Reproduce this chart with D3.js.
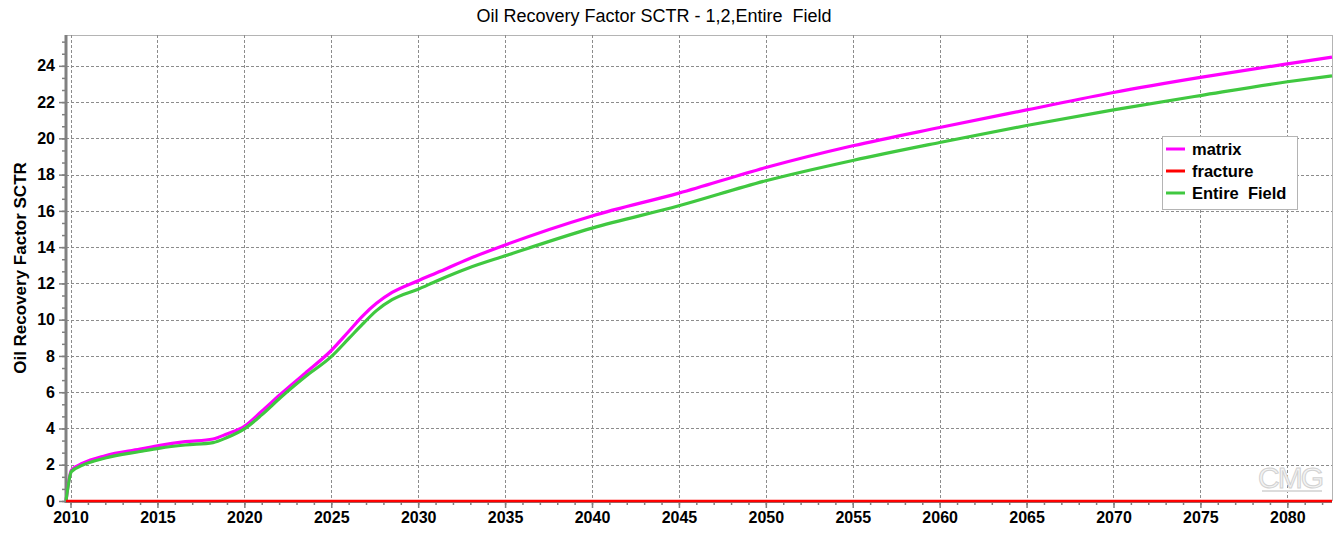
<!DOCTYPE html>
<html>
<head>
<meta charset="utf-8">
<script src="https://cdn.jsdelivr.net/npm/d3@7"></script>
<style>
 body { margin: 0; background: #fff; }
 text { font-family: Arial, "Liberation Sans", sans-serif; }
</style>
</head>
<body>
<svg></svg>
<script>
// размеры окна
const width = 1343;
const height = 541;

// данные
const years = [2009.74, 2010.05, 2010.7, 2012, 2014, 2015.15, 2016.6, 2018.2, 2019, 2020, 2021, 2022.1, 2023.5, 2025, 2026, 2026.8, 2027.6, 2028.5, 2030, 2031.1, 2032.9, 2035, 2040, 2045, 2050, 2055, 2060, 2065, 2070, 2075, 2080, 2082.57];
const matrix = [0, 1.7, 2.08, 2.5, 2.86, 3.07, 3.27, 3.42, 3.7, 4.12, 4.95, 5.9, 7.05, 8.3, 9.35, 10.2, 10.9, 11.5, 12.15, 12.6, 13.35, 14.12, 15.72, 16.98, 18.39, 19.59, 20.6, 21.57, 22.53, 23.36, 24.11, 24.48];
const fracture = [0, 0, 0, 0, 0, 0, 0, 0, 0, 0, 0, 0, 0, 0, 0, 0, 0, 0, 0, 0, 0, 0, 0, 0, 0, 0, 0, 0, 0, 0, 0, 0];
const entireField = [0, 1.62, 1.98, 2.37, 2.73, 2.92, 3.09, 3.22, 3.5, 3.98, 4.75, 5.72, 6.85, 7.96, 8.95, 9.75, 10.5, 11.1, 11.68, 12.15, 12.85, 13.52, 15.05, 16.28, 17.66, 18.78, 19.77, 20.71, 21.57, 22.36, 23.12, 23.45];

const seriesNames = ["matrix", "fracture", "Entire  Field"];
const seriesColors = ["#ff00ff", "#ff0000", "#40c840"];
const xTickYears = [2010, 2015, 2020, 2025, 2030, 2035, 2040, 2045, 2050, 2055, 2060, 2065, 2070, 2075, 2080];
const yTickValues = [0, 2, 4, 6, 8, 10, 12, 14, 16, 18, 20, 22, 24];

const chartTitle = "Oil Recovery Factor SCTR - 1,2,Entire  Field";
const yTitle = "Oil Recovery Factor SCTR";

// область построения
const margin = {left: 66, right: 11, top: 35, bottom: 40};
const plotW = width - margin.left - margin.right;
const plotH = height - margin.top - margin.bottom;

let svg = d3.select("svg")
 .attr("width", width)
 .attr("height", height);

let x = d3.scaleLinear().domain([2009.74, 2082.57]).range([margin.left, margin.left + plotW]);
let y = d3.scaleLinear().domain([0, 25.7]).range([margin.top + plotH, margin.top]);

// рамка сверху и справа
svg.append("line")
 .attr("x1", margin.left).attr("x2", margin.left + plotW)
 .attr("y1", margin.top + 0.5).attr("y2", margin.top + 0.5)
 .attr("stroke", "#b4b4b4");
svg.append("line")
 .attr("x1", margin.left + plotW + 0.5).attr("x2", margin.left + plotW + 0.5)
 .attr("y1", margin.top).attr("y2", margin.top + plotH)
 .attr("stroke", "#b4b4b4");

// сетка
let grid = svg.append("g")
 .attr("stroke", "#8c8c8c")
 .attr("stroke-width", 1)
 .attr("stroke-dasharray", "3,2");
grid.selectAll(".gx").data(xTickYears).enter().append("line")
 .attr("x1", d => Math.round(x(d)) + 0.5).attr("x2", d => Math.round(x(d)) + 0.5)
 .attr("y1", margin.top).attr("y2", margin.top + plotH);
grid.selectAll(".gy").data(yTickValues.filter(d => d > 0)).enter().append("line")
 .attr("x1", margin.left).attr("x2", margin.left + plotW)
 .attr("y1", d => Math.round(y(d)) + 0.5).attr("y2", d => Math.round(y(d)) + 0.5);

// ось X
let xAxis = d3.axisBottom(x)
 .tickValues(xTickYears)
 .tickFormat(d3.format("d"))
 .tickSize(6)
 .tickPadding(4);
let xMinor = d3.axisBottom(x)
 .tickValues(d3.range(2010, 2083, 1))
 .tickFormat("")
 .tickSize(3);
let gxMinor = svg.append("g").attr("transform", `translate(0, ${margin.top + plotH + 1})`).call(xMinor);
let gx = svg.append("g").attr("transform", `translate(0, ${margin.top + plotH + 1})`).call(xAxis);
[gx, gxMinor].forEach(g => {
 g.select(".domain").remove();
 g.selectAll("line").attr("stroke", "#808080").attr("stroke-width", 1.5);
});
gx.selectAll("text")
 .attr("fill", "#000")
 .style("font-size", "16px")
 .style("font-weight", "bold");
svg.append("line")
 .attr("x1", margin.left).attr("x2", margin.left + plotW)
 .attr("y1", margin.top + plotH + 1).attr("y2", margin.top + plotH + 1)
 .attr("stroke", "#808080").attr("stroke-width", 2);

// ось Y
let yAxis = d3.axisLeft(y)
 .tickValues(yTickValues)
 .tickSize(7)
 .tickPadding(4);
let yMinor = d3.axisLeft(y)
 .tickValues(d3.range(0, 25.7, 2 / 3))
 .tickFormat("")
 .tickSize(4);
let gyMinor = svg.append("g").attr("transform", `translate(${margin.left}, 0)`).call(yMinor);
let gy = svg.append("g").attr("transform", `translate(${margin.left}, 0)`).call(yAxis);
[gy, gyMinor].forEach(g => {
 g.select(".domain").remove();
 g.selectAll("line").attr("stroke", "#808080").attr("stroke-width", 1.5);
});
gy.selectAll("text")
 .attr("fill", "#000")
 .style("font-size", "16px")
 .style("font-weight", "bold");
svg.append("line")
 .attr("x1", margin.left).attr("x2", margin.left)
 .attr("y1", margin.top).attr("y2", margin.top + plotH + 2)
 .attr("stroke", "#808080").attr("stroke-width", 3);

// водяной знак CMG
let logo = svg.append("g").attr("transform", "translate(1290, 488)");
logo.append("text")
 .attr("text-anchor", "middle")
 .style("font-size", "30px")
 .style("letter-spacing", "-2px")
 .attr("fill", "#f4f4f4")
 .attr("stroke", "#d2d2d2")
 .attr("stroke-width", 1)
 .text("CMG");
logo.append("line")
 .attr("x1", -28).attr("x2", 32).attr("y1", 3).attr("y2", 3)
 .attr("stroke", "#dcdcdc").attr("stroke-width", 2);

// линии
let allSeries = [matrix, fracture, entireField];
let line = d3.line()
 .x((d, i) => x(years[i]))
 .y(d => y(d))
 .curve(d3.curveMonotoneX);
let drawOrder = [0, 2, 1];
drawOrder.forEach(k => {
 svg.append("path")
  .attr("d", line(allSeries[k]))
  .attr("fill", "none")
  .attr("stroke", seriesColors[k])
  .attr("stroke-width", k == 1 ? 2.5 : 3.2)
  .attr("stroke-linejoin", "round");
});

// заголовки
svg.append("text")
 .attr("x", 654).attr("y", 22)
 .attr("text-anchor", "middle")
 .style("font-size", "18px")
 .style("white-space", "pre")
 .attr("fill", "#000")
 .text(chartTitle);
svg.append("text")
 .attr("transform", "translate(26, 268) rotate(-90)")
 .attr("text-anchor", "middle")
 .style("font-size", "17px")
 .style("font-weight", "bold")
 .attr("fill", "#000")
 .text(yTitle);

// легенда
let legend = svg.append("g").attr("transform", "translate(1162, 136)");
legend.append("rect")
 .attr("x", 0.5).attr("y", 0.5)
 .attr("width", 135).attr("height", 73)
 .attr("fill", "#fff")
 .attr("stroke", "#b4b4b4");
seriesNames.forEach((name, i) => {
 let row = legend.append("g").attr("transform", `translate(0, ${13 + i * 22})`);
 row.append("line")
  .attr("x1", 4).attr("x2", 23)
  .attr("stroke", seriesColors[i]).attr("stroke-width", 3);
 row.append("text")
  .attr("x", 30).attr("dy", "0.35em")
  .style("font-size", "16.5px")
  .style("font-weight", "bold")
  .style("white-space", "pre")
  .attr("fill", "#000")
  .text(name);
});
</script>
</body>
</html>
